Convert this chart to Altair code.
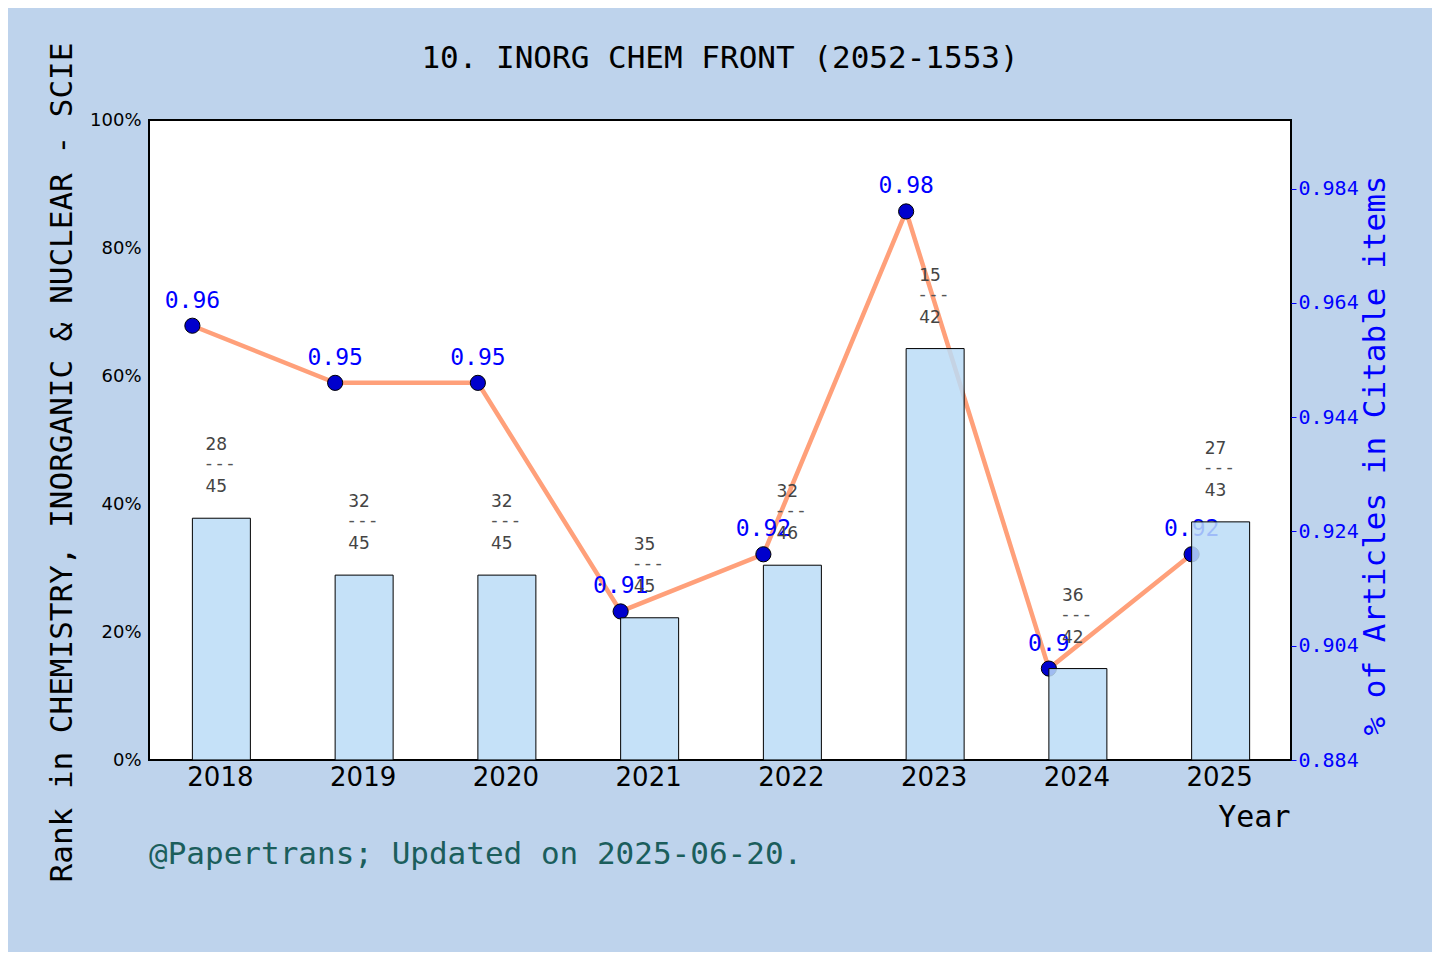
import altair as alt
import pandas as pd

years = ["2018", "2019", "2020", "2021", "2022", "2023", "2024", "2025"]
ranks = [28, 32, 32, 35, 32, 15, 36, 27]
totals = [45, 45, 45, 45, 46, 42, 42, 43]
citable = [0.96, 0.95, 0.95, 0.91, 0.92, 0.98, 0.90, 0.92]
left_ticks = [0, 0.2, 0.4, 0.6, 0.8, 1.0]
right_ticks = [0.884, 0.904, 0.924, 0.944, 0.964, 0.984]

title_text = "10. INORG CHEM FRONT (2052-1553)"
footer_text = "@Papertrans; Updated on 2025-06-20."
left_title = "Rank in CHEMISTRY, INORGANIC & NUCLEAR - SCIE"
right_title = "% of Articles in Citable items"

df = pd.DataFrame({
    "year": years,
    "rank": [str(r) for r in ranks],
    "total": [str(t) for t in totals],
    "pct": [1 - r / t for r, t in zip(ranks, totals)],
    "cit": citable,
    "citlab": [str(round(c, 2)) for c in citable],
})

MONO = "DejaVu Sans Mono"
SANS = "DejaVu Sans"
BLUE = "#0000FF"

X = alt.X(
    "year:N",
    scale=alt.Scale(paddingInner=0, paddingOuter=0),
    axis=alt.Axis(
        title="Year", labelAngle=0, labelFont=SANS, labelFontSize=26,
        labelColor="black", labelPadding=4, ticks=False, domain=False,
        titleFont=MONO, titleFontSize=30, titleFontWeight="normal",
        titleColor="black", titleX=1141, titleY=57, titleAlign="right",
        titleBaseline="middle",
    ),
)

Y_right = alt.Y(
    "cit:Q",
    scale=alt.Scale(domain=[0.884, 0.996], nice=False, zero=False),
    axis=alt.Axis(
        orient="right", values=right_ticks, format=".3f", grid=False,
        domain=False, ticks=True, tickSize=5, tickColor=BLUE,
        labelColor=BLUE, labelFont=MONO, labelFontSize=20, labelPadding=2,
        title=right_title, titleFont=MONO, titleFontSize=31,
        titleFontWeight="normal", titleColor=BLUE, titleAngle=270,
        titleX=84, titleY=335, titleAlign="center", titleBaseline="middle",
    ),
)

Y_left = alt.Y(
    "pct:Q",
    scale=alt.Scale(domain=[0, 1], nice=False),
    axis=alt.Axis(
        orient="left", values=left_ticks, format=".0%", grid=False,
        domain=False, ticks=False, labelColor="black", labelFont=SANS,
        labelFontSize=18, labelPadding=8,
        title=left_title, titleFont=MONO, titleFontSize=31,
        titleFontWeight="normal", titleColor="black", titleAngle=270,
        titleX=-87, titleY=342, titleAlign="center", titleBaseline="middle",
    ),
)

line_base = alt.Chart(df).encode(x=X, y=Y_right)
line = line_base.mark_line(color="#FFA07A", strokeWidth=4.5, xOffset=-28)
pts = line_base.mark_point(
    filled=True, fill="#0000CD", stroke="black", strokeWidth=1,
    size=230, opacity=1, xOffset=-28,
)
ptlab = line_base.mark_text(
    font=MONO, fontSize=23, color=BLUE, dy=-25, xOffset=-28,
    align="center", baseline="middle",
).encode(text="citlab:N")
line_group = alt.layer(line, pts, ptlab)

bar_base = alt.Chart(df).encode(x=X, y=Y_left)
bars = bar_base.mark_bar(
    size=58, fill="#BBDCF7", fillOpacity=0.85, stroke="black",
    strokeWidth=1, xOffset=1,
)
num = bar_base.mark_text(
    font=SANS, fontSize=17, color="#444444", align="left",
    baseline="middle", dx=-15, dy=-73,
).encode(text="rank:N")
dash = bar_base.mark_text(
    font=MONO, fontSize=18, color="#555555", align="left",
    baseline="middle", dx=-17, dy=-54,
).encode(text=alt.value("---"))
den = bar_base.mark_text(
    font=SANS, fontSize=17, color="#444444", align="left",
    baseline="middle", dx=-15, dy=-31,
).encode(text="total:N")

footer = alt.Chart(pd.DataFrame({"t": [footer_text]})).mark_text(
    font=MONO, fontSize=31, color="#1B5E5C", align="left",
    baseline="middle",
).encode(text="t:N", x=alt.value(0), y=alt.value(735))

bar_group = alt.layer(bars, num, dash, den, footer)

chart = (
    alt.layer(line_group, bar_group)
    .resolve_scale(y="independent")
    .properties(
        width=1142,
        height=640,
        autosize=alt.AutoSizeParams(type="none"),
        padding={"left": 141, "top": 112, "right": 141, "bottom": 192},
        background="#BED3EC",
        title=alt.TitleParams(
            text=title_text, font=MONO, fontSize=31, fontWeight="normal",
            color="black", anchor="middle", offset=0, dy=33,
        ),
    )
    .configure_view(stroke="black", strokeWidth=2, fill="white")
)

chart.save("out.html", embed_options={"renderer": "svg", "actions": False})
